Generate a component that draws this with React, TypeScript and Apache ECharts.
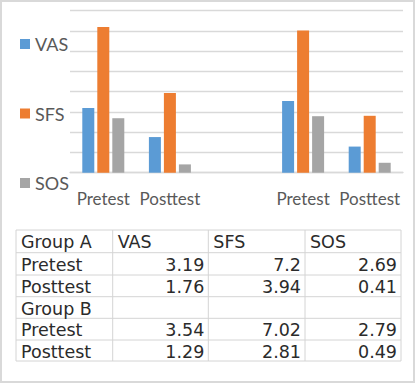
import React, { useEffect, useRef } from "react";
import * as echarts from "echarts";

const categories = ["Pretest", "Posttest", "", "Pretest", "Posttest"];
const seriesNames = ["VAS", "SFS", "SOS"];
const vasValues = [3.19, 1.76, null, 3.54, 1.29];
const sfsValues = [7.2, 3.94, null, 7.02, 2.81];
const sosValues = [2.69, 0.41, null, 2.79, 0.49];
const colors = ["#5b9bd5", "#ed7d31", "#a5a5a5"];

const tableHeader = ["Group A", "VAS", "SFS", "SOS"];
const tableRows: (string | number | null)[][] = [
  ["Pretest", 3.19, 7.2, 2.69],
  ["Posttest", 1.76, 3.94, 0.41],
  ["Group B", null, null, null],
  ["Pretest", 3.54, 7.02, 2.79],
  ["Posttest", 1.29, 2.81, 0.49],
];

export default function App() {
  const ref = useRef<HTMLDivElement>(null);
  useEffect(() => {
    if (!ref.current) return;
    const chart = echarts.init(ref.current, null, { renderer: "svg" });

    const colX = [16, 112.7, 208.3, 305, 401];
    const rowY = [230, 252.7, 275, 296.7, 318.3, 340, 361];
    const graphics: any[] = [];
    graphics.push({
      type: "rect",
      shape: { x: 1, y: 1, width: 413, height: 381 },
      style: { fill: "none", stroke: "#d9d9d9", lineWidth: 2 },
      silent: true,
    });
    for (const y of rowY) {
      graphics.push({
        type: "line",
        shape: { x1: colX[0], y1: y, x2: colX[4], y2: y },
        style: { stroke: "#d4d4d4", lineWidth: 1 },
      });
    }
    for (const x of colX) {
      graphics.push({
        type: "line",
        shape: { x1: x, y1: rowY[0], x2: x, y2: rowY[6] },
        style: { stroke: "#d4d4d4", lineWidth: 1 },
      });
    }
    const allRows: (string | number | null)[][] = [tableHeader, ...tableRows];
    allRows.forEach((row, ri) => {
      const cy = (rowY[ri] + rowY[ri + 1]) / 2 + 1;
      row.forEach((cell, ci) => {
        if (cell === null || cell === undefined) return;
        const isNum = typeof cell === "number";
        graphics.push({
          type: "text",
          x: isNum ? colX[ci + 1] - 4 : colX[ci] + 5,
          y: cy,
          style: {
            text: String(cell),
            fill: "#2b2b2b",
            font: '17.5px "DejaVu Sans"',
            textAlign: isNum ? "right" : "left",
            textVerticalAlign: "middle",
          },
        });
      });
    });

    const mk = (name: string, data: (number | null)[], i: number) => ({
      name,
      type: "bar",
      data,
      itemStyle: { color: colors[i] },
      barWidth: 12,
      barGap: "25%",
    });

    chart.setOption({
      animation: false,
      color: colors,
      legend: {
        orient: "vertical",
        left: 15,
        top: 30,
        itemWidth: 10,
        itemHeight: 10,
        itemGap: 51.5,
        icon: "rect",
        data: seriesNames,
        textStyle: {
          color: "#595959",
          fontFamily: "Lato",
          fontSize: 18,
          lineHeight: 18,
        },
      },
      grid: { left: 70, right: 13, top: 10.7, bottom: 211.3, containLabel: false },
      xAxis: {
        type: "category",
        data: categories,
        axisLine: { lineStyle: { color: "#d9d9d9", width: 1.3 } },
        axisTick: { show: false },
        axisLabel: {
          interval: 0,
          color: "#595959",
          fontFamily: "Lato",
          fontSize: 17,
          margin: 17,
        },
      },
      yAxis: {
        type: "value",
        min: 0,
        max: 8,
        interval: 1,
        axisLabel: { show: false },
        axisLine: { show: false },
        axisTick: { show: false },
        splitLine: { lineStyle: { color: "#d9d9d9", width: 1.3 } },
      },
      series: [
        mk("VAS", vasValues, 0),
        mk("SFS", sfsValues, 1),
        mk("SOS", sosValues, 2),
      ],
      graphic: graphics,
    });
    return () => chart.dispose();
  }, []);
  return (
    <div
      ref={ref}
      style={{ position: "absolute", left: 0, top: 0, width: 416, height: 384, background: "#fff" }}
    />
  );
}
